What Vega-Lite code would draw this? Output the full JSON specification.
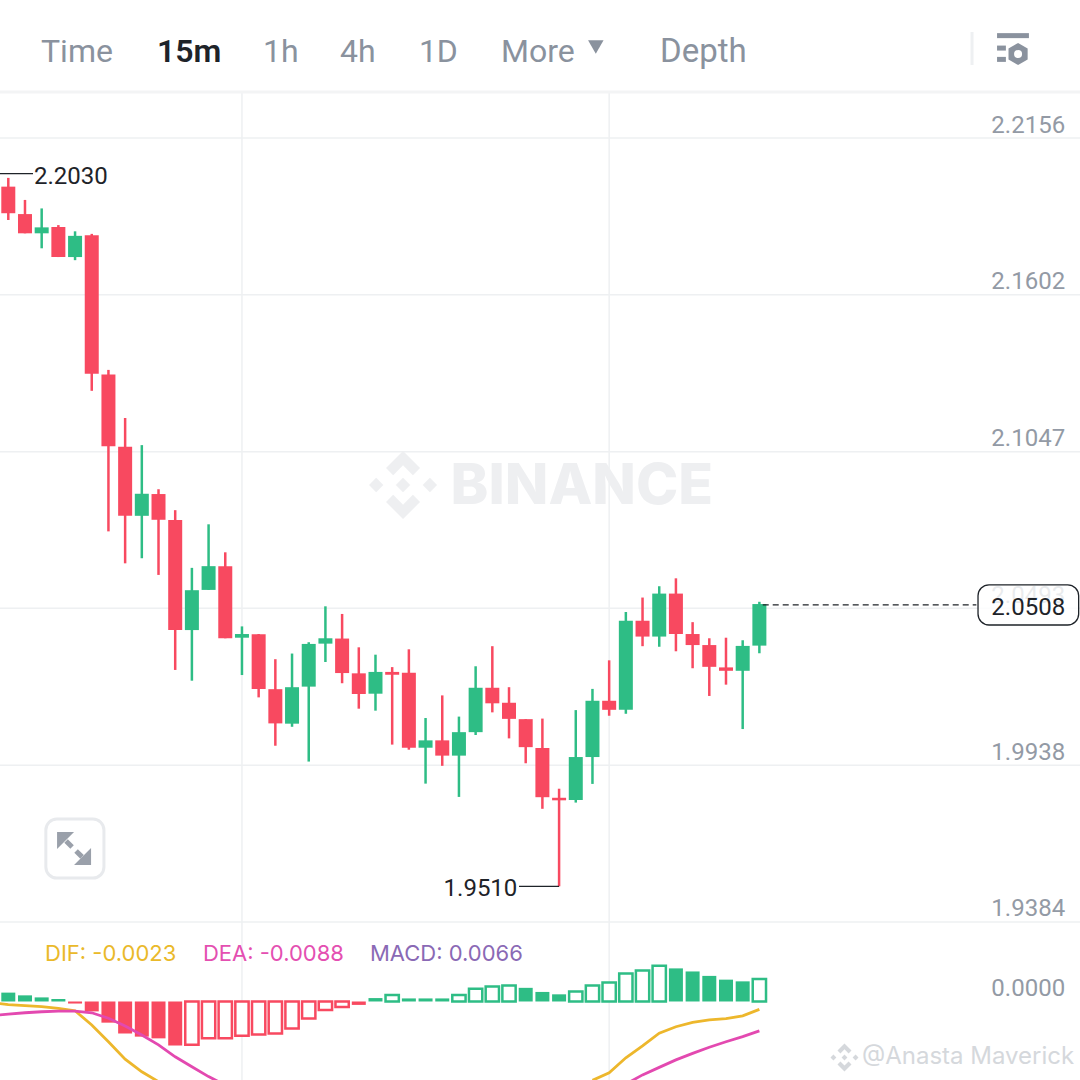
{"$schema":"https://vega.github.io/schema/vega-lite/v6.json","width":1080,"height":1080,"autosize":"none","padding":0,"background":"white",
"datasets":{
"levels":[{"level":2.2156},{"level":2.1602},{"level":2.1047},{"level":2.0493},{"level":1.9938},{"level":1.9384}],
"candles":[
{"i":0,"o":2.1984,"h":2.2015,"l":2.1866,"c":2.1890},{"i":1,"o":2.1887,"h":2.1937,"l":2.1819,"c":2.1819},{"i":2,"o":2.1819,"h":2.1907,"l":2.1766,"c":2.1840},{"i":3,"o":2.1841,"h":2.1848,"l":2.1735,"c":2.1735},{"i":4,"o":2.1735,"h":2.1826,"l":2.1724,"c":2.1810},{"i":5,"o":2.1812,"h":2.1817,"l":2.1262,"c":2.1322},{"i":6,"o":2.1320,"h":2.1336,"l":2.0765,"c":2.1066},{"i":7,"o":2.1064,"h":2.1166,"l":2.0652,"c":2.0820},{"i":8,"o":2.0820,"h":2.1070,"l":2.0670,"c":2.0898},{"i":9,"o":2.0897,"h":2.0914,"l":2.0611,"c":2.0806},
{"i":10,"o":2.0805,"h":2.0840,"l":2.0275,"c":2.0416},{"i":11,"o":2.0416,"h":2.0636,"l":2.0237,"c":2.0557},{"i":12,"o":2.0558,"h":2.0790,"l":2.0558,"c":2.0642},{"i":13,"o":2.0642,"h":2.0691,"l":2.0387,"c":2.0387},{"i":14,"o":2.0389,"h":2.0429,"l":2.0257,"c":2.0402},{"i":15,"o":2.0401,"h":2.0402,"l":2.0178,"c":2.0208},{"i":16,"o":2.0207,"h":2.0313,"l":2.0007,"c":2.0086},{"i":17,"o":2.0085,"h":2.0333,"l":2.0074,"c":2.0214},{"i":18,"o":2.0216,"h":2.0373,"l":1.9951,"c":2.0367},{"i":19,"o":2.0368,"h":2.0500,"l":2.0303,"c":2.0387},
{"i":20,"o":2.0386,"h":2.0473,"l":2.0228,"c":2.0264},{"i":21,"o":2.0263,"h":2.0355,"l":2.0138,"c":2.0190},{"i":22,"o":2.0191,"h":2.0329,"l":2.0131,"c":2.0268},{"i":23,"o":2.0268,"h":2.0285,"l":2.0011,"c":2.0258},{"i":24,"o":2.0265,"h":2.0348,"l":1.9993,"c":2.0000},{"i":25,"o":2.0000,"h":2.0105,"l":1.9873,"c":2.0026},{"i":26,"o":2.0026,"h":2.0185,"l":1.9936,"c":1.9972},{"i":27,"o":1.9972,"h":2.0110,"l":1.9826,"c":2.0055},{"i":28,"o":2.0055,"h":2.0288,"l":2.0045,"c":2.0212},{"i":29,"o":2.0212,"h":2.0359,"l":2.0125,"c":2.0157},
{"i":30,"o":2.0159,"h":2.0214,"l":2.0033,"c":2.0102},{"i":31,"o":2.0101,"h":2.0101,"l":1.9945,"c":2.0002},{"i":32,"o":1.9999,"h":2.0103,"l":1.9784,"c":1.9825},{"i":33,"o":1.9823,"h":1.9855,"l":1.9510,"c":1.9814},{"i":34,"o":1.9815,"h":2.0133,"l":1.9806,"c":1.9967},{"i":35,"o":1.9967,"h":2.0208,"l":1.9872,"c":2.0166},{"i":36,"o":2.0166,"h":2.0309,"l":2.0113,"c":2.0134},{"i":37,"o":2.0134,"h":2.0480,"l":2.0120,"c":2.0449},{"i":38,"o":2.0449,"h":2.0531,"l":2.0359,"c":2.0393},{"i":39,"o":2.0393,"h":2.0571,"l":2.0357,"c":2.0545},
{"i":40,"o":2.0545,"h":2.0599,"l":2.0341,"c":2.0402},{"i":41,"o":2.0402,"h":2.0444,"l":2.0281,"c":2.0363},{"i":42,"o":2.0363,"h":2.0387,"l":2.0183,"c":2.0286},{"i":43,"o":2.0284,"h":2.0389,"l":2.0223,"c":2.0272},{"i":44,"o":2.0272,"h":2.0380,"l":2.0066,"c":2.0360},{"i":45,"o":2.0361,"h":2.0516,"l":2.0334,"c":2.0508}],
"macd":[
{"i":-1,"dif":-0.0004,"dea":-0.0041,"hist":null,"rising":false},
{"i":0,"dif":-0.0009,"dea":-0.0037,"hist":0.0026,"rising":false},{"i":1,"dif":-0.0012,"dea":-0.0033,"hist":0.0018,"rising":false},{"i":2,"dif":-0.0015,"dea":-0.0030,"hist":0.0012,"rising":false},{"i":3,"dif":-0.0020,"dea":-0.0028,"hist":0.0007,"rising":false},{"i":4,"dif":-0.0027,"dea":-0.0028,"hist":-0.0006,"rising":false},{"i":5,"dif":-0.0069,"dea":-0.0033,"hist":-0.0029,"rising":false},{"i":6,"dif":-0.0118,"dea":-0.0049,"hist":-0.0062,"rising":false},{"i":7,"dif":-0.0169,"dea":-0.0072,"hist":-0.0094,"rising":false},{"i":8,"dif":-0.0206,"dea":-0.0098,"hist":-0.0103,"rising":false},{"i":9,"dif":-0.0235,"dea":-0.0127,"hist":-0.0108,"rising":false},
{"i":10,"dif":null,"dea":-0.0162,"hist":-0.0129,"rising":false},{"i":11,"dif":null,"dea":-0.0191,"hist":-0.0127,"rising":true},{"i":12,"dif":null,"dea":-0.0220,"hist":-0.0108,"rising":true},{"i":13,"dif":null,"dea":-0.0245,"hist":-0.0108,"rising":true},{"i":14,"dif":null,"dea":null,"hist":-0.0100,"rising":true},{"i":15,"dif":null,"dea":null,"hist":-0.0097,"rising":true},{"i":16,"dif":null,"dea":null,"hist":-0.0094,"rising":true},{"i":17,"dif":null,"dea":null,"hist":-0.0079,"rising":true},{"i":18,"dif":null,"dea":null,"hist":-0.0050,"rising":true},{"i":19,"dif":null,"dea":null,"hist":-0.0025,"rising":true},
{"i":20,"dif":null,"dea":null,"hist":-0.0016,"rising":true},{"i":21,"dif":null,"dea":null,"hist":-0.0010,"rising":false},{"i":22,"dif":null,"dea":null,"hist":0.0010,"rising":false},{"i":23,"dif":null,"dea":null,"hist":0.0019,"rising":true},{"i":24,"dif":null,"dea":null,"hist":0.0009,"rising":false},{"i":25,"dif":null,"dea":null,"hist":0.0009,"rising":false},{"i":26,"dif":null,"dea":null,"hist":0.0009,"rising":false},{"i":27,"dif":null,"dea":null,"hist":0.0019,"rising":true},{"i":28,"dif":null,"dea":null,"hist":0.0037,"rising":true},{"i":29,"dif":null,"dea":null,"hist":0.0044,"rising":true},
{"i":30,"dif":null,"dea":null,"hist":0.0047,"rising":true},{"i":31,"dif":null,"dea":null,"hist":0.0040,"rising":false},{"i":32,"dif":null,"dea":null,"hist":0.0028,"rising":false},{"i":33,"dif":null,"dea":null,"hist":0.0021,"rising":false},{"i":34,"dif":null,"dea":null,"hist":0.0029,"rising":true},{"i":35,"dif":-0.0231,"dea":null,"hist":0.0047,"rising":true},{"i":36,"dif":-0.0209,"dea":null,"hist":0.0056,"rising":true},{"i":37,"dif":-0.0165,"dea":-0.0242,"hist":0.0082,"rising":true},{"i":38,"dif":-0.0130,"dea":-0.0215,"hist":0.0091,"rising":true},{"i":39,"dif":-0.0093,"dea":-0.0193,"hist":0.0105,"rising":true},
{"i":40,"dif":-0.0074,"dea":-0.0171,"hist":0.0097,"rising":false},{"i":41,"dif":-0.0061,"dea":-0.0152,"hist":0.0088,"rising":false},{"i":42,"dif":-0.0054,"dea":-0.0134,"hist":0.0075,"rising":false},{"i":43,"dif":-0.0050,"dea":-0.0118,"hist":0.0064,"rising":false},{"i":44,"dif":-0.0042,"dea":-0.0103,"hist":0.0059,"rising":false},{"i":45,"dif":-0.0023,"dea":-0.0086,"hist":0.0066,"rising":true}]},
"layer":[
{"layer":[
{"data":{"name":"levels"},"mark":{"type":"rule","color":"#EEF0F2","strokeWidth":1.5},"encoding":{"y":{"field":"level","type":"quantitative","scale":{"domain":[1.8825,2.2644],"nice":false,"zero":false}},"x":{"datum":-0.497,"type":"quantitative","scale":{"domain":[-0.497,64.21],"nice":false,"zero":false,"padding":0}},"x2":{"datum":64.21}}},
{"data":{"values":[{"at":14},{"at":36}]},"mark":{"type":"rule","color":"#EEF0F2","strokeWidth":1.5},"encoding":{"x":{"field":"at","type":"quantitative"},"y":{"datum":2.2319,"type":"quantitative"},"y2":{"datum":1.8825}}},
{"data":{"values":[{}]},"layer":[
{"mark":{"type":"rule","color":"#F3F4F5","strokeWidth":3},"encoding":{"x":{"datum":-0.497,"type":"quantitative"},"x2":{"datum":64.21},"y":{"datum":2.2319,"type":"quantitative"}}},
{"mark":{"type":"text","text":"BINANCE","font":"Inter","fontWeight":800,"fontSize":57,"color":"#EEEFF1","align":"left","baseline":"middle","dy":2},"encoding":{"x":{"datum":26.5,"type":"quantitative"},"y":{"datum":2.0929,"type":"quantitative"}}},
{"mark":{"type":"point","filled":true,"opacity":1,"color":"#EEEFF1","size":4624,"shape":"M0,-1L.5,-.5L.29,-.29L0,-.58L-.29,-.29L-.5,-.5ZM0,1L.5,.5L.29,.29L0,.58L-.29,.29L-.5,.5ZM-1,0L-.79,-.21L-.58,0L-.79,.21ZM1,0L.79,-.21L.58,0L.79,.21ZM0,-.21L.21,0L0,.21L-.21,0Z"},"encoding":{"x":{"datum":23.65,"type":"quantitative"},"y":{"datum":2.0929,"type":"quantitative"}}}
]},
{"data":{"name":"levels"},"mark":{"type":"text","font":"Roboto","fontSize":24,"color":"#939AA5","align":"right","baseline":"middle","dy":-12.5},"encoding":{"x":{"datum":63.32,"type":"quantitative"},"y":{"field":"level","type":"quantitative"},"text":{"field":"level","type":"quantitative","format":".4f"}}},
{"data":{"name":"candles"},"mark":{"type":"rule","strokeWidth":2.5},"encoding":{"x":{"field":"i","type":"quantitative"},"y":{"field":"h","type":"quantitative"},"y2":{"field":"l"},"color":{"condition":{"test":"datum.c>=datum.o","value":"#2EBD85"},"value":"#F84960"}}},
{"data":{"name":"candles"},"mark":{"type":"bar","size":14,"orient":"vertical"},"encoding":{"x":{"field":"i","type":"quantitative"},"y":{"field":"o","type":"quantitative"},"y2":{"field":"c"},"color":{"condition":{"test":"datum.c>=datum.o","value":"#2EBD85"},"value":"#F84960"}}},
{"data":{"values":[{}]},"layer":[
{"mark":{"type":"rule","color":"#1E2329","strokeWidth":1.3},"encoding":{"x":{"datum":-0.497,"type":"quantitative"},"x2":{"datum":1.48},"y":{"datum":2.2030,"type":"quantitative"}}},
{"mark":{"type":"text","text":"2.2030","font":"Roboto","fontSize":24,"color":"#1E2329","align":"left","baseline":"middle"},"encoding":{"x":{"datum":1.54,"type":"quantitative"},"y":{"datum":2.2017,"type":"quantitative"}}},
{"mark":{"type":"rule","color":"#1E2329","strokeWidth":1.3},"encoding":{"x":{"datum":30.6,"type":"quantitative"},"x2":{"datum":33},"y":{"datum":1.9510,"type":"quantitative"}}},
{"mark":{"type":"text","text":"1.9510","font":"Roboto","fontSize":24,"color":"#1E2329","align":"right","baseline":"middle"},"encoding":{"x":{"datum":30.5,"type":"quantitative"},"y":{"datum":1.9500,"type":"quantitative"}}},
{"mark":{"type":"rule","color":"#1E2329","strokeWidth":1.2,"strokeDash":[6,4]},"encoding":{"x":{"datum":45.2,"type":"quantitative"},"x2":{"datum":58},"y":{"datum":2.0505,"type":"quantitative"}}},
{"mark":{"type":"rect","fill":"white","fillOpacity":0.8,"stroke":"#1E2329","strokeWidth":1.3,"cornerRadius":11},"encoding":{"x":{"datum":58.1,"type":"quantitative"},"x2":{"datum":64.13},"y":{"datum":2.0576,"type":"quantitative"},"y2":{"datum":2.0434}}},
{"mark":{"type":"text","text":"2.0508","font":"Roboto","fontSize":24,"color":"#1E2329","align":"right","baseline":"middle"},"encoding":{"x":{"datum":63.32,"type":"quantitative"},"y":{"datum":2.0493,"type":"quantitative"}}},
{"mark":{"type":"rect","fill":"white","stroke":"#E8EAED","strokeWidth":3,"cornerRadius":11},"encoding":{"x":{"datum":2.25,"type":"quantitative"},"x2":{"datum":5.73},"y":{"datum":1.9748,"type":"quantitative"},"y2":{"datum":1.9539}}},
{"mark":{"type":"rule","color":"#9AA0AA","strokeWidth":5},"encoding":{"x":{"datum":3.46,"type":"quantitative"},"x2":{"datum":3.82},"y":{"datum":1.9670,"type":"quantitative"},"y2":{"datum":1.9649}}},
{"mark":{"type":"rule","color":"#9AA0AA","strokeWidth":5},"encoding":{"x":{"datum":4.06,"type":"quantitative"},"x2":{"datum":4.42},"y":{"datum":1.9635,"type":"quantitative"},"y2":{"datum":1.9614}}},
{"mark":{"type":"point","filled":true,"opacity":1,"color":"#9AA0AA","size":289,"shape":"M-1,-1L1,-1L-1,1Z"},"encoding":{"x":{"datum":3.43,"type":"quantitative"},"y":{"datum":1.9672,"type":"quantitative"}}},
{"mark":{"type":"point","filled":true,"opacity":1,"color":"#9AA0AA","size":289,"shape":"M1,1L-1,1L1,-1Z"},"encoding":{"x":{"datum":4.45,"type":"quantitative"},"y":{"datum":1.9615,"type":"quantitative"}}},
{"mark":{"type":"text","text":"Time","font":"Roboto","fontSize":32,"color":"#8A929E","align":"left","baseline":"middle"},"encoding":{"x":{"datum":1.96,"type":"quantitative"},"y":{"datum":2.2461,"type":"quantitative"}}},
{"mark":{"type":"text","text":"15m","font":"Roboto","fontSize":32,"fontWeight":600,"color":"#1E2329","align":"left","baseline":"middle"},"encoding":{"x":{"datum":8.91,"type":"quantitative"},"y":{"datum":2.2461,"type":"quantitative"}}},
{"mark":{"type":"text","text":"1h","font":"Roboto","fontSize":32,"color":"#8A929E","align":"left","baseline":"middle"},"encoding":{"x":{"datum":15.26,"type":"quantitative"},"y":{"datum":2.2461,"type":"quantitative"}}},
{"mark":{"type":"text","text":"4h","font":"Roboto","fontSize":32,"color":"#8A929E","align":"left","baseline":"middle"},"encoding":{"x":{"datum":19.87,"type":"quantitative"},"y":{"datum":2.2461,"type":"quantitative"}}},
{"mark":{"type":"text","text":"1D","font":"Roboto","fontSize":32,"color":"#8A929E","align":"left","baseline":"middle"},"encoding":{"x":{"datum":24.6,"type":"quantitative"},"y":{"datum":2.2461,"type":"quantitative"}}},
{"mark":{"type":"text","text":"More","font":"Roboto","fontSize":32,"color":"#8A929E","align":"left","baseline":"middle"},"encoding":{"x":{"datum":29.52,"type":"quantitative"},"y":{"datum":2.2461,"type":"quantitative"}}},
{"mark":{"type":"text","text":"Depth","font":"Roboto","fontSize":33,"color":"#8A929E","align":"left","baseline":"middle"},"encoding":{"x":{"datum":39.05,"type":"quantitative"},"y":{"datum":2.2461,"type":"quantitative"}}},
{"mark":{"type":"point","filled":true,"opacity":1,"color":"#8A929E","size":240,"shape":"triangle-down"},"encoding":{"x":{"datum":35.2,"type":"quantitative"},"y":{"datum":2.2478,"type":"quantitative"}}},
{"mark":{"type":"rule","color":"#EEF0F2","strokeWidth":3},"encoding":{"x":{"datum":57.74,"type":"quantitative"},"y":{"datum":2.2531,"type":"quantitative"},"y2":{"datum":2.2414}}},
{"mark":{"type":"rule","color":"#8A929E","strokeWidth":5},"encoding":{"x":{"datum":59.24,"type":"quantitative"},"x2":{"datum":61.15},"y":{"datum":2.2518,"type":"quantitative"}}},
{"mark":{"type":"rule","color":"#8A929E","strokeWidth":5},"encoding":{"x":{"datum":59.24,"type":"quantitative"},"x2":{"datum":59.77},"y":{"datum":2.2474,"type":"quantitative"}}},
{"mark":{"type":"rule","color":"#8A929E","strokeWidth":5},"encoding":{"x":{"datum":59.24,"type":"quantitative"},"x2":{"datum":59.77},"y":{"datum":2.2434,"type":"quantitative"}}},
{"mark":{"type":"point","filled":true,"opacity":1,"color":"#8A929E","size":484,"shape":"M0,-1L.87,-.5L.87,.5L0,1L-.87,.5L-.87,-.5Z"},"encoding":{"x":{"datum":60.5,"type":"quantitative"},"y":{"datum":2.2453,"type":"quantitative"}}},
{"mark":{"type":"point","filled":true,"opacity":1,"color":"white","size":64,"shape":"circle"},"encoding":{"x":{"datum":60.5,"type":"quantitative"},"y":{"datum":2.2453,"type":"quantitative"}}},
{"mark":{"type":"text","text":"DIF: -0.0023","font":"Inter","fontSize":22,"color":"#EAB92A","align":"left","baseline":"middle"},"encoding":{"x":{"datum":2.2,"type":"quantitative"},"y":{"datum":1.9269,"type":"quantitative"}}},
{"mark":{"type":"text","text":"DEA: -0.0088","font":"Inter","fontSize":22,"color":"#E44FB1","align":"left","baseline":"middle"},"encoding":{"x":{"datum":11.66,"type":"quantitative"},"y":{"datum":1.9269,"type":"quantitative"}}},
{"mark":{"type":"text","text":"MACD: 0.0066","font":"Inter","fontSize":22,"color":"#8A69B5","align":"left","baseline":"middle"},"encoding":{"x":{"datum":21.67,"type":"quantitative"},"y":{"datum":1.9269,"type":"quantitative"}}}
]}
]},
{"layer":[
{"data":{"values":[{}]},"mark":{"type":"text","text":"0.0000","font":"Roboto","fontSize":24,"color":"#939AA5","align":"right","baseline":"middle","dy":-12.5},"encoding":{"x":{"datum":63.32,"type":"quantitative"},"y":{"datum":0,"type":"quantitative","scale":{"domain":[-0.023,0.2934],"nice":false,"zero":false}}}},
{"data":{"name":"macd"},"transform":[{"filter":"isValid(datum.hist) && !datum.rising"}],"mark":{"type":"bar","size":14,"orient":"vertical"},"encoding":{"x":{"field":"i","type":"quantitative"},"y":{"field":"hist","type":"quantitative"},"y2":{"datum":0},"color":{"condition":{"test":"datum.hist>=0","value":"#2EBD85"},"value":"#F84960"}}},
{"data":{"name":"macd"},"transform":[{"filter":"isValid(datum.hist) && datum.rising"}],"mark":{"type":"bar","size":13.3,"orient":"vertical","fill":"white","strokeWidth":2.5},"encoding":{"x":{"field":"i","type":"quantitative"},"y":{"field":"hist","type":"quantitative"},"y2":{"datum":0},"stroke":{"condition":{"test":"datum.hist>=0","value":"#2EBD85"},"value":"#F84960"}}},
{"data":{"name":"macd"},"mark":{"type":"line","color":"#EDB72C","strokeWidth":2.8,"clip":true},"encoding":{"x":{"field":"i","type":"quantitative"},"y":{"field":"dif","type":"quantitative"}}},
{"data":{"name":"macd"},"mark":{"type":"line","color":"#E349B0","strokeWidth":2.8,"clip":true},"encoding":{"x":{"field":"i","type":"quantitative"},"y":{"field":"dea","type":"quantitative"}}},
{"data":{"values":[{}]},"layer":[
{"mark":{"type":"text","text":"@Anasta Maverick","font":"Inter","fontSize":24,"color":"#D5D8DC","align":"left","baseline":"middle"},"encoding":{"x":{"datum":51.15,"type":"quantitative"},"y":{"datum":-0.0164,"type":"quantitative"}}},
{"mark":{"type":"point","filled":true,"opacity":1,"color":"#D5D8DC","size":784,"shape":"M0,-1L.5,-.5L.29,-.29L0,-.58L-.29,-.29L-.5,-.5ZM0,1L.5,.5L.29,.29L0,.58L-.29,.29L-.5,.5ZM-1,0L-.79,-.21L-.58,0L-.79,.21ZM1,0L.79,-.21L.58,0L.79,.21ZM0,-.21L.21,0L0,.21L-.21,0Z"},"encoding":{"x":{"datum":50.1,"type":"quantitative"},"y":{"datum":-0.0164,"type":"quantitative"}}}
]}
]}
],
"resolve":{"scale":{"y":"independent"}},
"config":{"axis":{"disable":true},"view":{"stroke":null},"style":{"cell":{"stroke":null}}}}
